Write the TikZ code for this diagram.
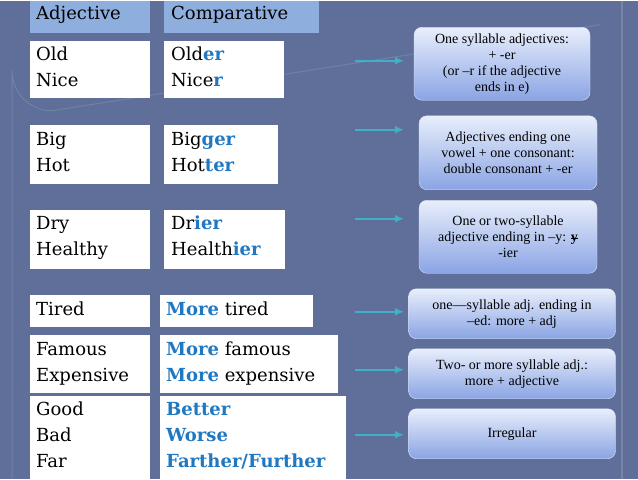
\documentclass[tikz,border=0pt]{standalone}
\usepackage{fontspec}
\setmainfont{DejaVu Serif}
\newfontfamily\boxfont{Liberation Serif}
\usetikzlibrary{arrows.meta}
\definecolor{bg}{HTML}{5F6F9A}
\definecolor{hdr}{HTML}{8EAEDE}
\definecolor{bl}{HTML}{1F78C1}
\definecolor{arr}{HTML}{3FB0C8}
\definecolor{bxt}{HTML}{E8EEFB}
\definecolor{bxb}{HTML}{8AA4E4}
\newcommand{\B}[1]{\textcolor{bl}{\textbf{#1}}}
\newcommand{\strky}{\textbf{\rlap{y}\raisebox{0.5ex}{\rule{0.5em}{0.6pt}}}}
\begin{document}
\begin{tikzpicture}[x=1pt,y=-1pt,
  txt/.style={anchor=north west,align=left,font=\fontsize{18}{26}\selectfont,inner sep=0pt},
  rule/.style={draw=white!70!bxb,rounded corners=8pt,top color=bxt,bottom color=bxb,align=center,font=\boxfont\fontsize{14}{16}\selectfont,inner sep=2pt},
  ar/.style={arr,line width=2pt,-{Latex[length=9pt,width=8pt]}}]
\fill[bg] (0,0) rectangle (638,478);
\draw[white!15!bg,line width=1.5pt] (622,0) -- (622,478);
\draw[white!12!bg,line width=1pt] (12,478) -- (12,70) arc[start angle=180,end angle=90,radius=40] -- (600,24);
\fill[hdr] (30,0) rectangle (150,32); \fill[hdr] (164,0) rectangle (319,32);
\node[txt] (h1) at (36,5) {Adjective};
\node[txt] (h2) at (171,5) {Comparative};
\foreach \y/\h in {40/57,124/59,209/59,294/32,334/58,395/83}{
  \fill[white] (30,\y) rectangle (150,\y+\h);
}
\fill[white] (164,40) rectangle (284,97);
\fill[white] (164,124) rectangle (278,183);
\fill[white] (164,209) rectangle (285,268);
\fill[white] (160,294) rectangle (313,326);
\fill[white] (160,334) rectangle (338,392);
\fill[white] (160,395) rectangle (346,478);
\node[txt] (a1) at (36,46) {Old\\Nice};
\node[txt] (c1) at (171,46) {Old\B{er}\\Nice\B{r}};
\node[txt] (a2) at (36,131) {Big\\Hot};
\node[txt] (c2) at (171,131) {Big\B{ger}\\Hot\B{ter}};
\node[txt] (a3) at (36,215) {Dry\\Healthy};
\node[txt] (c3) at (171,215) {Dr\B{ier}\\Health\B{ier}};
\node[txt] (a4) at (36,301) {Tired};
\node[txt] (c4) at (166,301) {\B{More} tired};
\node[txt] (a5) at (36,341) {Famous\\Expensive};
\node[txt] (c5) at (166,341) {\B{More} famous\\\B{More} expensive};
\node[txt] (a6) at (36,401) {Good\\Bad\\Far};
\node[txt] (c6) at (166,401) {\B{Better}\\\B{Worse}\\\B{Farther/Further}};
\node[rule,minimum width=176pt,minimum height=73pt] (r1) at (502,63) {One syllable adjectives:\\+ -er\\(or –r if the adjective\\ends in e)};
\node[rule,minimum width=178pt,minimum height=74pt] (r2) at (508,152) {Adjectives ending one\\vowel + one consonant:\\double consonant + -er};
\node[rule,minimum width=178pt,minimum height=73pt] (r3) at (508,236) {One or two-syllable\\adjective ending in –y: \strky\\-ier};
\node[rule,minimum width=207pt,minimum height=50pt] (r4) at (512,313) {one—syllable adj. ending in\\–ed: more + adj};
\node[rule,minimum width=207pt,minimum height=50pt] (r5) at (512,373) {Two- or more syllable adj.:\\more + adjective};
\node[rule,minimum width=207pt,minimum height=50pt] (r6) at (512,433) {Irregular};
\foreach \i/\y in {1/60,2/129,3/218,4/311,5/369,6/434}{
  \coordinate (s\i) at (355,\y); \coordinate (e\i) at (404,\y);
  \draw[ar] (s\i) -- (e\i);
}
\end{tikzpicture}
\end{document}
